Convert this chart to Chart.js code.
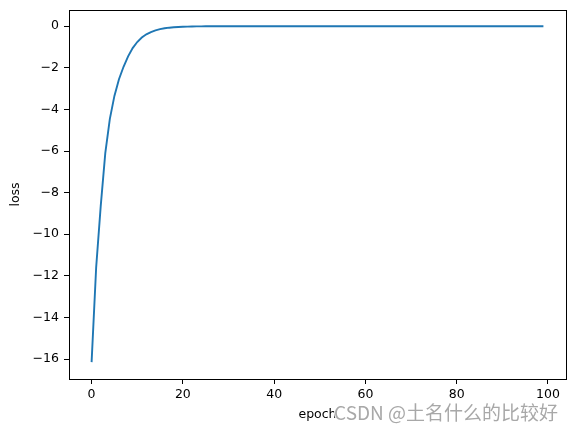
<!DOCTYPE html>
<html>
<head>
<meta charset="utf-8">
<script src="https://cdn.jsdelivr.net/npm/chart.js@4.4.1/dist/chart.umd.min.js"></script>
<style>
  html, body { margin: 0; padding: 0; background: #fff; }
  canvas { display: block; }
</style>
</head>
<body>
<canvas id="lossChart" width="574" height="432"></canvas>
<script>
// loss per epoch
const lossValues = [
  -16.15, -11.6, -8.65, -6.1, -4.45, -3.35, -2.55, -1.95, -1.45, -1.05,
  -0.76, -0.54, -0.39, -0.28, -0.2, -0.14, -0.1, -0.07, -0.05, -0.035,
  -0.025, -0.018, -0.013, -0.009, -0.006, -0.004, -0.003, -0.002, -0.0015, -0.001,
  -0.001, -0.001, 0, 0, 0, 0, 0, 0, 0, 0,
  0, 0, 0, 0, 0, 0, 0, 0, 0, 0,
  0, 0, 0, 0, 0, 0, 0, 0, 0, 0,
  0, 0, 0, 0, 0, 0, 0, 0, 0, 0,
  0, 0, 0, 0, 0, 0, 0, 0, 0, 0,
  0, 0, 0, 0, 0, 0, 0, 0, 0, 0,
  0, 0, 0, 0, 0, 0, 0, 0, 0, 0
];
const epochs = lossValues.map((_, i) => i);
const xTicks = [0, 20, 40, 60, 80, 100];
const yTicks = [-16, -14, -12, -10, -8, -6, -4, -2, 0];

const tickFont = { family: 'DejaVu Sans', size: 12.5 };

function fmt(v) {
  return v < 0 ? '\u2212' + Math.abs(v) : String(v);
}

// box around the plot area plus the watermark
const framePlugin = {
  id: 'frame',
  afterDraw(chart) {
    const { ctx, chartArea: a } = chart;
    ctx.save();
    ctx.strokeStyle = '#000';
    ctx.lineWidth = 1;
    ctx.strokeRect(Math.round(a.left) + 0.5, Math.round(a.top) + 0.5,
      Math.round(a.right - a.left), Math.round(a.bottom - a.top));

    ctx.font = '19px "Noto Sans CJK SC", sans-serif';
    ctx.textAlign = 'right';
    ctx.textBaseline = 'middle';
    ctx.lineJoin = 'round';
    ctx.strokeStyle = '#fff';
    ctx.lineWidth = 2;
    const text = 'CSDN @土名什么的比较好';
    ctx.strokeText(text, 558, 413);
    ctx.fillStyle = '#a8a8a8';
    ctx.fillText(text, 558, 413);
    ctx.restore();
  }
};

const ctx = document.getElementById('lossChart');

new Chart(ctx, {
  type: 'line',
  data: {
    datasets: [{
      label: 'loss',
      data: epochs.map((e, i) => ({ x: e, y: lossValues[i] })),
      borderColor: '#1f77b4',
      borderWidth: 1.9,
      pointRadius: 0,
      tension: 0,
      fill: false
    }]
  },
  options: {
    responsive: false,
    animation: false,
    devicePixelRatio: 1,
    layout: {
      padding: { top: 10, right: 8, left: 0, bottom: 0 }
    },
    plugins: {
      legend: { display: false },
      tooltip: { enabled: false }
    },
    scales: {
      x: {
        type: 'linear',
        min: -4.95,
        max: 103.95,
        afterBuildTicks: function(axis) {
          axis.ticks = xTicks.map(v => ({ value: v }));
        },
        afterFit: function(axis) {
          axis.height = 53;
          axis.paddingLeft = 0;
          axis.paddingRight = 0;
        },
        border: { display: false },
        grid: {
          drawOnChartArea: false,
          drawTicks: true,
          tickLength: 5,
          color: '#000'
        },
        ticks: {
          color: '#000',
          font: tickFont,
          padding: 3,
          maxRotation: 0,
          autoSkip: false,
          callback: fmt
        },
        title: {
          display: true,
          text: 'epoch',
          color: '#000',
          font: tickFont,
          padding: { top: 0, bottom: 9.5 }
        }
      },
      y: {
        type: 'linear',
        min: -16.96,
        max: 0.78,
        afterBuildTicks: function(axis) {
          axis.ticks = yTicks.map(v => ({ value: v }));
        },
        afterFit: function(axis) {
          axis.width = 69;
          axis.paddingTop = 0;
          axis.paddingBottom = 0;
        },
        border: { display: false },
        grid: {
          drawOnChartArea: false,
          drawTicks: true,
          tickLength: 5,
          color: '#000'
        },
        ticks: {
          color: '#000',
          font: tickFont,
          padding: 5,
          autoSkip: false,
          callback: fmt
        },
        title: {
          display: true,
          text: 'loss',
          color: '#000',
          font: tickFont,
          padding: { top: 8.5, bottom: 0 }
        }
      }
    }
  },
  plugins: [framePlugin]
});
</script>
</body>
</html>
